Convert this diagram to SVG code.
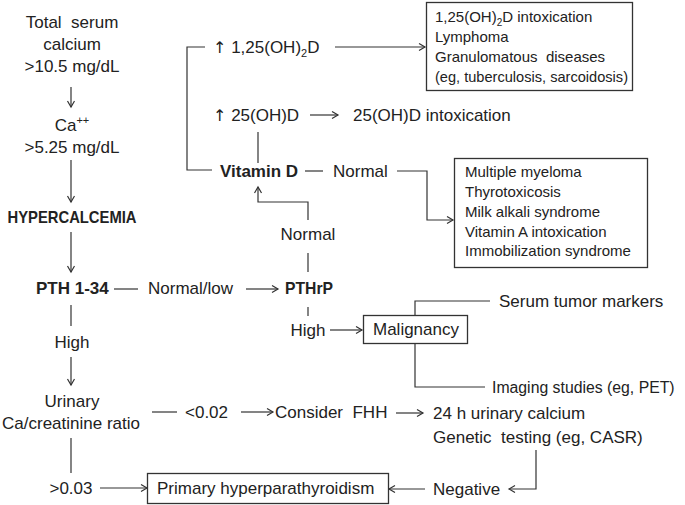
<svg xmlns="http://www.w3.org/2000/svg" width="685" height="505" viewBox="0 0 685 505">
<style>
text{font-family:"Liberation Sans",Arial,sans-serif;font-size:17px;fill:#222;white-space:pre}
.b{font-weight:bold}
.s{font-size:15px}
.im{font-size:15.8px}
.m{text-anchor:middle}
.up{font-family:"DejaVu Sans",sans-serif;font-size:16px}
.ln{fill:none;stroke:#333;stroke-width:1.2}
.ar{fill:none;stroke:#333;stroke-width:1.2;marker-end:url(#ah)}
.box{fill:#fff;stroke:#333;stroke-width:1.3}
</style>
<defs>
<marker id="ah" markerUnits="userSpaceOnUse" markerWidth="10" markerHeight="10" refX="7" refY="4" orient="auto">
<path d="M1,0.5 L7,4 L1,7.5" fill="none" stroke="#333" stroke-width="1.2"/>
</marker>
</defs>
<rect width="685" height="505" fill="#fff"/>
<g id="connectors">
<line class="ar" x1="71" y1="87" x2="71" y2="107"/>
<line class="ar" x1="71" y1="160" x2="71" y2="202"/>
<line class="ar" x1="71" y1="232" x2="71" y2="272"/>
<line class="ln" x1="114" y1="289" x2="138" y2="289"/>
<line class="ar" x1="246" y1="289" x2="278" y2="289"/>
<line class="ln" x1="71" y1="305" x2="71" y2="326"/>
<line class="ar" x1="71" y1="357" x2="71" y2="385"/>
<line class="ln" x1="152" y1="412" x2="177" y2="412"/>
<line class="ar" x1="241" y1="412" x2="273" y2="412"/>
<line class="ar" x1="396" y1="413" x2="423" y2="413"/>
<line class="ln" x1="71" y1="438" x2="71" y2="473"/>
<line class="ar" x1="100" y1="488" x2="147" y2="488"/>
<polyline class="ar" points="536,450 536,489 509,489"/>
<line class="ar" x1="425" y1="489" x2="389" y2="489"/>
<line class="ln" x1="308" y1="307" x2="308" y2="316"/>
<line class="ar" x1="330" y1="330" x2="362" y2="330"/>
<polyline class="ln" points="415,315 415,301 490,301"/>
<polyline class="ln" points="415,343 415,387 485,387"/>
<line class="ln" x1="308" y1="253" x2="308" y2="272"/>
<polyline class="ar" points="308,220 308,202 258,202 258,187"/>
<line class="ln" x1="305" y1="171" x2="323" y2="171"/>
<polyline class="ar" points="397,171 427,171 427,220 453,220"/>
<line class="ln" x1="258" y1="132" x2="258" y2="163"/>
<line class="ar" x1="310" y1="115" x2="338" y2="115"/>
<polyline class="ln" points="205,47 187,47 187,170 212,170"/>
<line class="ar" x1="335" y1="47" x2="425" y2="47"/>
</g>
<g id="n-total"><text class="m" x="72" y="28">Total  serum</text><text class="m" x="72" y="50">calcium</text><text class="m" x="72" y="72">&gt;10.5 mg/dL</text></g>
<g id="n-ca"><text class="m" x="72" y="131">Ca<tspan font-size="11" dy="-7">++</tspan></text><text class="m" x="72" y="153">&gt;5.25 mg/dL</text></g>
<g id="n-hyper"><text class="b m" x="72" y="223" textLength="129" lengthAdjust="spacingAndGlyphs">HYPERCALCEMIA</text></g>
<g id="n-pth"><text class="b" x="36" y="294">PTH 1-34</text></g>
<g id="n-normallow"><text x="148" y="294">Normal/low</text></g>
<g id="n-pthrp"><text class="b" x="285" y="294" textLength="48" lengthAdjust="spacingAndGlyphs">PTHrP</text></g>
<g id="n-high1"><text class="m" x="72" y="348">High</text></g>
<g id="n-urinary"><text class="m" x="72" y="407">Urinary</text><text class="m" x="71" y="429">Ca/creatinine ratio</text></g>
<g id="n-lt002"><text x="185" y="418">&lt;0.02</text></g>
<g id="n-fhh"><text x="275" y="418">Consider  FHH</text></g>
<g id="n-tests"><text x="433" y="419">24 h urinary calcium</text><text x="433" y="443">Genetic  testing (eg, CASR)</text></g>
<g id="n-gt003"><text class="m" x="71" y="494">&gt;0.03</text></g>
<g id="n-primary"><rect class="box" x="147.5" y="473.5" width="241" height="30"/><text x="157" y="494">Primary hyperparathyroidism</text></g>
<g id="n-negative"><text x="433" y="495">Negative</text></g>
<g id="n-high2"><text class="m" x="308" y="336">High</text></g>
<g id="n-malig"><rect class="box" x="363.5" y="315.5" width="104" height="28"/><text x="373" y="335">Malignancy</text></g>
<g id="n-serum"><text x="499" y="307">Serum tumor markers</text></g>
<g id="n-imaging"><text class="im" x="492" y="393">Imaging studies (eg, PET)</text></g>
<g id="n-normal2"><text class="m" x="308" y="240">Normal</text></g>
<g id="n-vitd"><text class="b" x="220" y="177">Vitamin D</text></g>
<g id="n-normal1"><text x="333" y="177">Normal</text></g>
<g id="n-25oh"><text x="213" y="121"><tspan class="up">↑</tspan> 25(OH)D</text></g>
<g id="n-25int"><text x="353" y="121">25(OH)D intoxication</text></g>
<g id="n-125oh"><text x="213" y="53"><tspan class="up">↑</tspan> 1,25(OH)<tspan font-size="11" dy="4">2</tspan><tspan dy="-4">D</tspan></text></g>
<g id="n-box1"><rect class="box" x="426.5" y="2.5" width="206" height="88"/>
<text class="s" x="435" y="22">1,25(OH)<tspan font-size="10" dy="4">2</tspan><tspan dy="-4">D intoxication</tspan></text>
<text class="s" x="435" y="42">Lymphoma</text>
<text class="s" x="435" y="62">Granulomatous  diseases</text>
<text class="s" x="435" y="82" textLength="193" lengthAdjust="spacingAndGlyphs">(eg, tuberculosis, sarcoidosis)</text></g>
<g id="n-box2"><rect class="box" x="454.5" y="158.5" width="193" height="109"/>
<text class="s" x="465" y="177">Multiple myeloma</text>
<text class="s" x="465" y="197">Thyrotoxicosis</text>
<text class="s" x="465" y="217">Milk alkali syndrome</text>
<text class="s" x="465" y="237">Vitamin A intoxication</text>
<text class="s" x="465" y="256">Immobilization syndrome</text></g>
</svg>
